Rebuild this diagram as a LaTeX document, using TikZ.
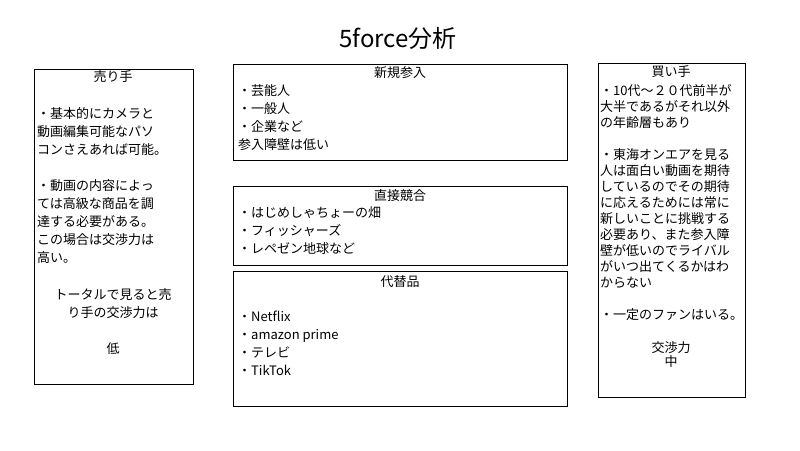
\documentclass[tikz,border=0pt]{standalone}
\usepackage{fontspec}
\setmainfont{Noto Sans CJK JP}
\begin{document}
\begin{tikzpicture}[x=1pt,y=-1pt,
  bx/.style={draw=black,line width=0.8pt},
  tx/.style={font=\fontsize{13}{18}\selectfont,inner sep=0pt,align=left,anchor=north west},
  hd/.style={font=\fontsize{13}{18}\selectfont,inner sep=0pt,anchor=north}]
\useasboundingbox (0,0) rectangle (800,450);
\node[font=\fontsize{24}{28}\selectfont] (title) at (398,38) {5force分析};
% left
\draw[bx] (34,69) rectangle (193,384);
\node[hd] (lh) at (113,70) {売り手};
\node[tx] (lb) at (37,107) {・基本的にカメラと\\動画編集可能なパソ\\コンさえあれば可能。\\[18pt]・動画の内容によっ\\ては高級な商品を調\\達する必要がある。\\この場合は交渉力は\\高い。};
\node[tx,align=center,anchor=north] (lc) at (113,288) {トータルで見ると売\\り手の交渉力は\\[18pt]低};
% new entry
\draw[bx] (233,64) rectangle (567,160);
\node[hd] (nh) at (400,66) {新規参入};
\node[tx] (nb) at (238,84) {・芸能人\\・一般人\\・企業など\\参入障壁は低い};
% direct
\draw[bx] (233,186) rectangle (567,265);
\node[hd] (dh) at (400,189) {直接競合};
\node[tx] (db) at (238,207) {・はじめしゃちょーの畑\\・フィッシャーズ\\・レペゼン地球など};
% substitute
\draw[bx] (233,271) rectangle (567,406);
\node[hd] (sh) at (400,275) {代替品};
\node[tx] (sb) at (238,311) {・Netflix\\・amazon prime\\・テレビ\\・TikTok};
% right
\draw[bx] (598,63) rectangle (745,397);
\node[hd] (rh) at (671,65) {買い手};
\node[tx,font=\fontsize{13}{16}\selectfont] (rb) at (600,84) {・10代～２０代前半が\\大半であるがそれ以外\\の年齢層もあり\\[16pt]・東海オンエアを見る\\人は面白い動画を期待\\しているのでその期待\\に応えるためには常に\\新しいことに挑戦する\\必要あり、また参入障\\壁が低いのでライバル\\がいつ出てくるかはわ\\からない\\[16pt]・一定のファンはいる。};
\node[tx,align=center,anchor=north,font=\fontsize{13}{14}\selectfont] (rc) at (671,341) {交渉力\\中};
\end{tikzpicture}
\end{document}
